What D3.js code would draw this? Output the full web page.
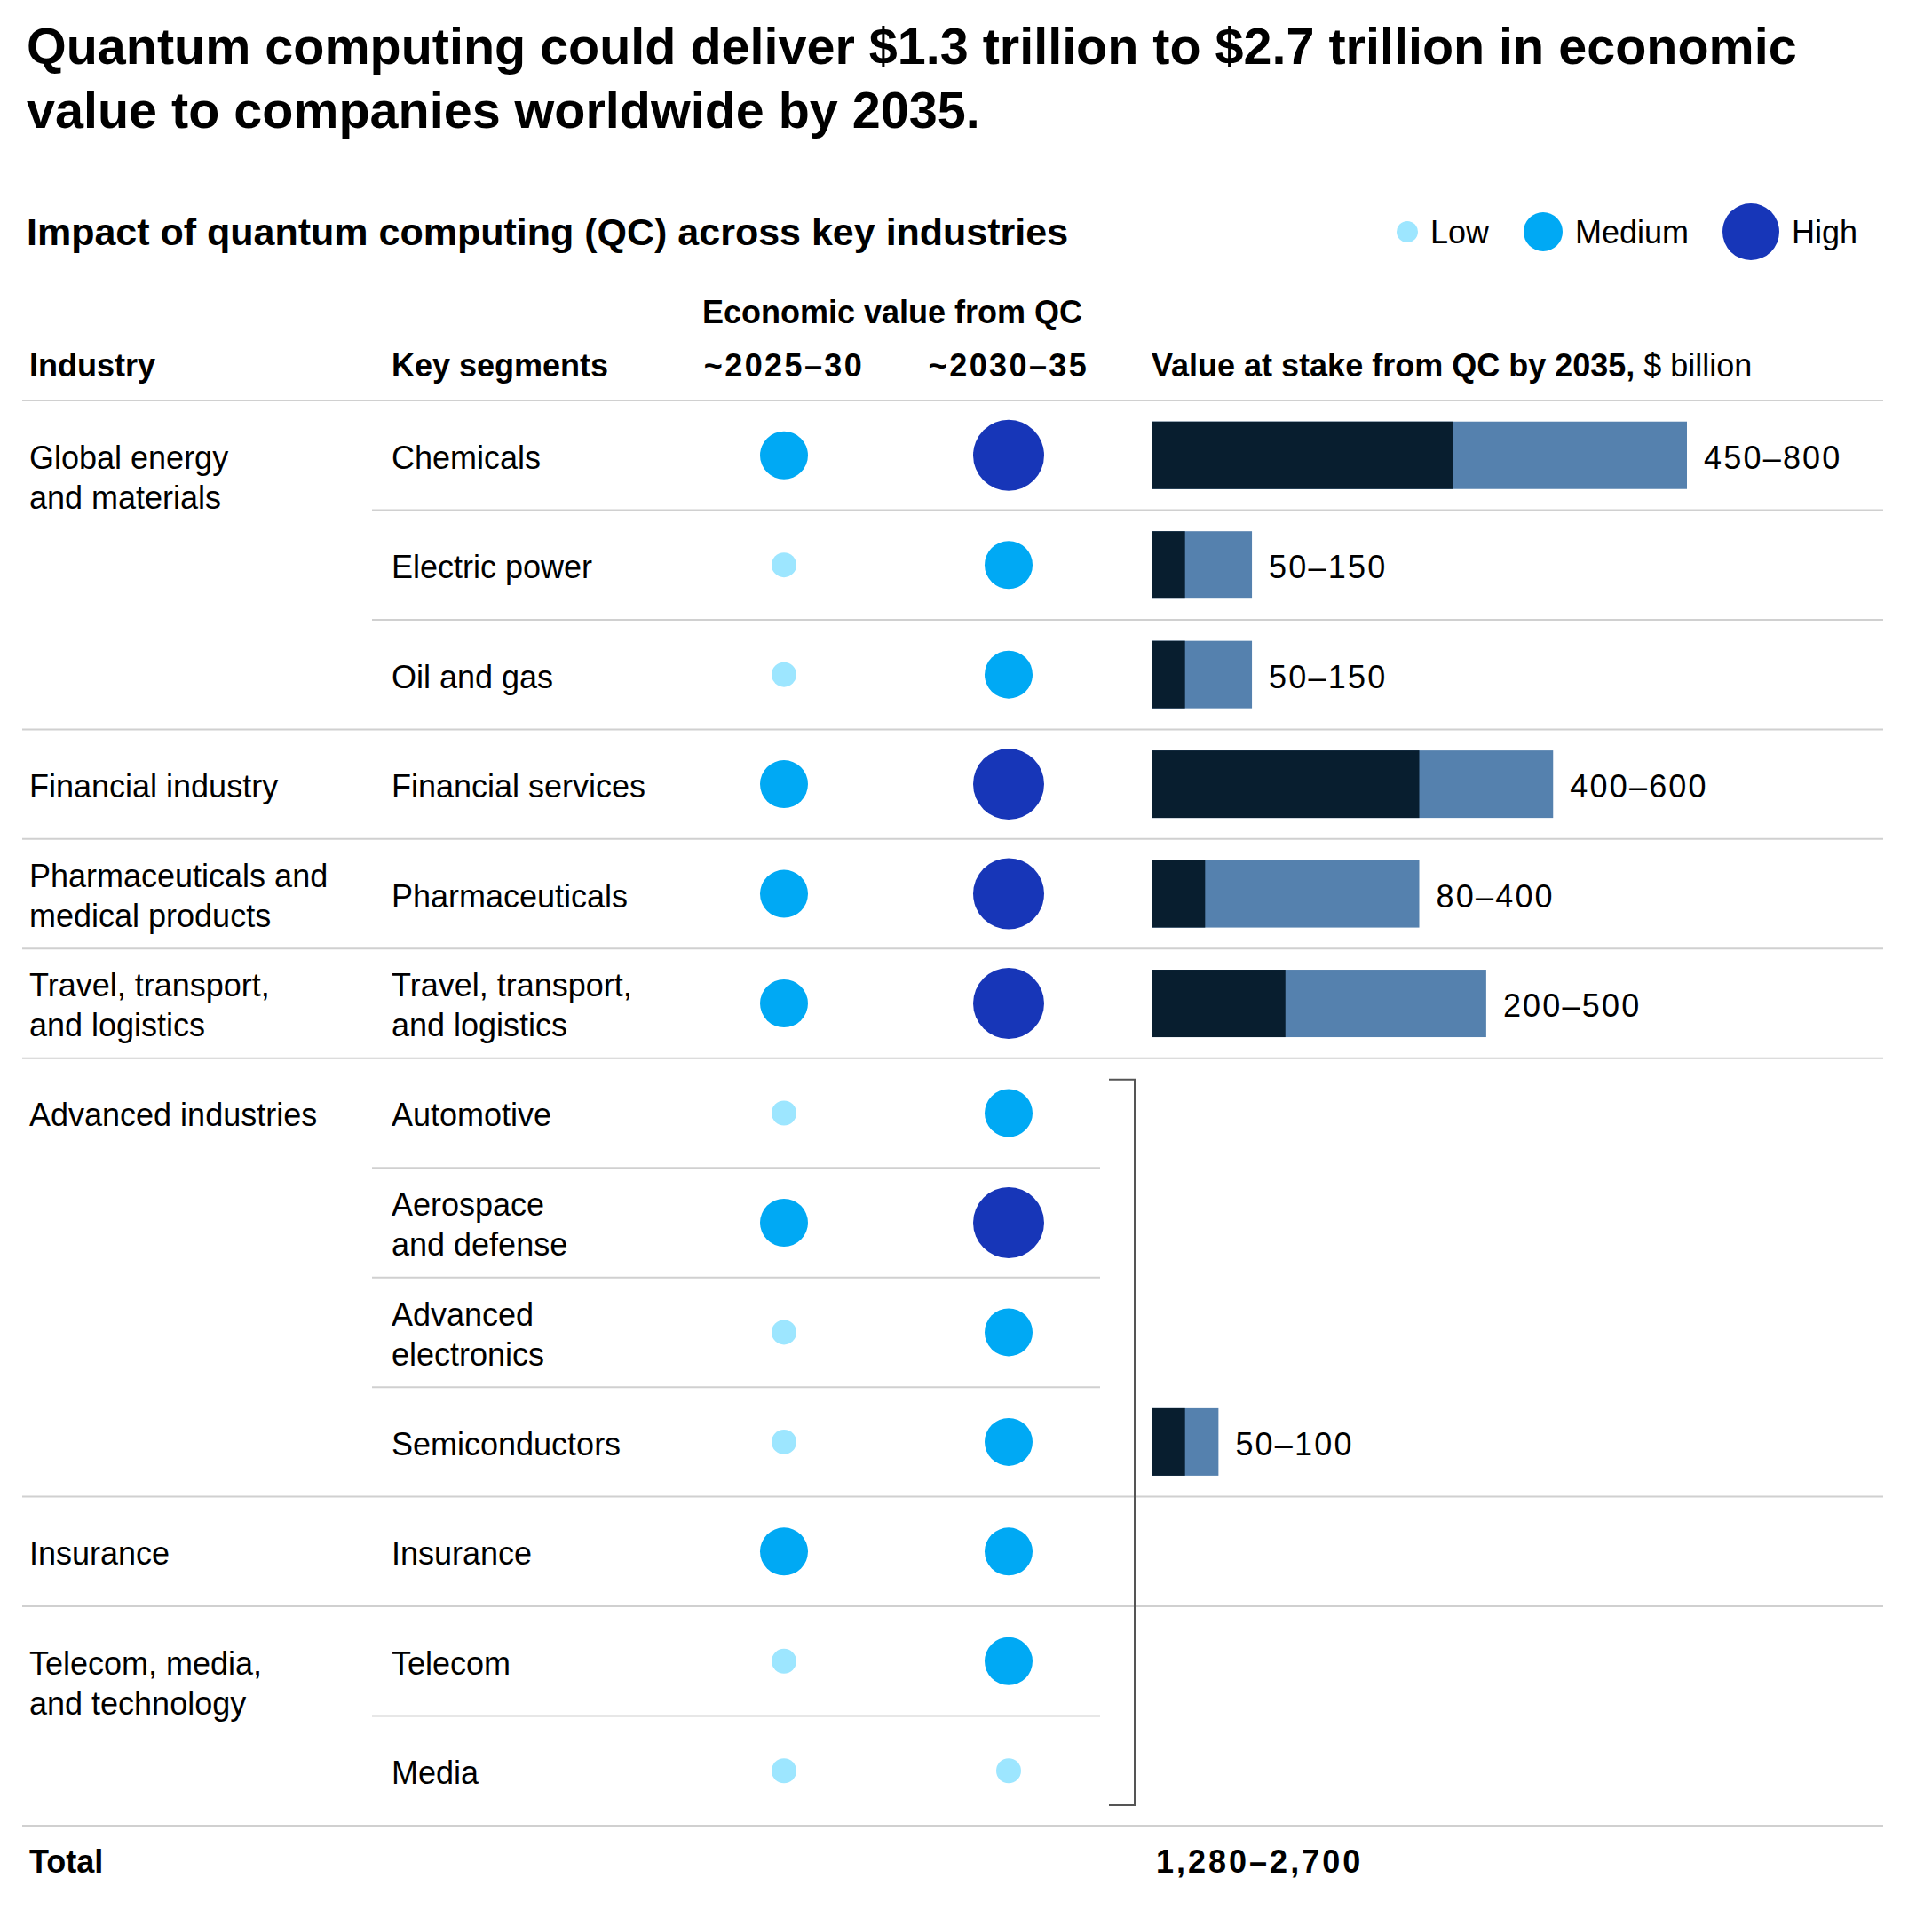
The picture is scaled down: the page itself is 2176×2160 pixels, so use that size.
<!DOCTYPE html>
<html>
<head>
<meta charset="utf-8">
<script src="https://cdn.jsdelivr.net/npm/d3@7"></script>
<style>
  body { margin: 0; background: #fff; }
  svg text { font-family: "Liberation Sans", Arial, sans-serif; fill: #000; }
</style>
</head>
<body>
<div id="chart"></div>
<script>
// segments (one row each)
const segments = ["Chemicals", "Electric power", "Oil and gas", "Financial services", "Pharmaceuticals",
  "Travel, transport,|and logistics", "Automotive", "Aerospace|and defense", "Advanced|electronics",
  "Semiconductors", "Insurance", "Telecom", "Media"];
const level2530 = ["Medium", "Low", "Low", "Medium", "Medium", "Medium", "Low", "Medium", "Low", "Low", "Medium", "Low", "Low"];
const level3035 = ["High", "Medium", "Medium", "High", "High", "High", "Medium", "High", "Medium", "Medium", "Medium", "Medium", "Low"];

// industries: label, first row, number of rows
const industries = ["Global energy|and materials", "Financial industry", "Pharmaceuticals and|medical products",
  "Travel, transport,|and logistics", "Advanced industries", "Insurance", "Telecom, media,|and technology"];
const industryStart = [0, 3, 4, 5, 6, 10, 11];
const industrySpan = [3, 1, 1, 1, 4, 1, 2];

// value at stake, $ billion
const barRows = [0, 1, 2, 3, 4, 5, 9];
const valueLow = [450, 50, 50, 400, 80, 200, 50];
const valueHigh = [800, 150, 150, 600, 400, 500, 100];
const valueLabels = ["450–800", "50–150", "50–150", "400–600", "80–400", "200–500", "50–100"];
const totalLabel = "1,280–2,700";

const levels = ["Low", "Medium", "High"];
const periods = ["~2025–30", "~2030–35"];

const W = 2176, H = 2160;
const svg = d3.select("#chart").append("svg").attr("width", W).attr("height", H);

const left = 25, right = 2121;
const fs = 36;
const y = d3.scaleBand().domain(d3.range(segments.length)).range([451, 2056]);
const yc = i => y(i) + y.bandwidth() / 2;
const xCol = d3.scaleOrdinal().domain(periods).range([883, 1136]);
const r = d3.scaleOrdinal().domain(levels).range([14, 27, 40]);
const color = d3.scaleOrdinal().domain(levels).range(["#9de6ff", "#00a9f4", "#1736b8"]);
const x = d3.scaleLinear().domain([0, 800]).range([1297, 1900]);

// title
svg.append("text").attr("x", 30).attr("y", 72).attr("font-size", 57.5).attr("font-weight", "bold")
  .text("Quantum computing could deliver $1.3 trillion to $2.7 trillion in economic");
svg.append("text").attr("x", 30).attr("y", 144).attr("font-size", 57.5).attr("font-weight", "bold")
  .text("value to companies worldwide by 2035.");

svg.append("text").attr("x", 30).attr("y", 276).attr("font-size", 43).attr("font-weight", "bold")
  .text("Impact of quantum computing (QC) across key industries");

// legend
const legX = [1585, 1738, 1972];
const legR = d3.scaleOrdinal().domain(levels).range([12, 22, 32]);
const leg = svg.append("g").selectAll("g").data(levels).join("g")
  .attr("transform", (d, i) => "translate(" + legX[i] + ",261)");
leg.append("circle").attr("r", d => legR(d)).attr("fill", d => color(d));
leg.append("text").attr("x", d => legR(d) + 14).attr("dy", "0.36em").attr("font-size", fs).text(d => d);

// headers
svg.append("text").attr("x", 791).attr("y", 364)
  .attr("font-size", fs).attr("font-weight", "bold").text("Economic value from QC");
svg.append("text").attr("x", 33).attr("y", 424).attr("font-size", fs).attr("font-weight", "bold").text("Industry");
svg.append("text").attr("x", 441).attr("y", 424).attr("font-size", fs).attr("font-weight", "bold").text("Key segments");
periods.forEach(p => {
  svg.append("text").attr("x", xCol(p)).attr("y", 424).attr("text-anchor", "middle")
    .attr("letter-spacing", 2.4)
    .attr("font-size", fs).attr("font-weight", "bold").text(p);
});
const vh = svg.append("text").attr("x", 1297).attr("y", 424).attr("font-size", fs);
vh.append("tspan").attr("font-weight", "bold").text("Value at stake from QC by 2035,");
vh.append("tspan").text(" $ billion");

// row lines
const grid = svg.append("g").attr("stroke", "#d0d0d0").attr("stroke-width", 2);
const groupTops = [0].concat(industryStart.slice(1), [segments.length]);
groupTops.forEach(i => {
  const yy = i === segments.length ? y.range()[1] : y(i);
  grid.append("line").attr("x1", left).attr("x2", right).attr("y1", yy).attr("y2", yy);
});
d3.range(segments.length).forEach(i => {
  if (industryStart.includes(i)) return;
  const ext = i < 3 ? right : 1239;
  grid.append("line").attr("x1", 419).attr("x2", ext).attr("y1", y(i)).attr("y2", y(i));
});

// multi-line text helper
function lines(g, str, x0, cy, firstAtCenter) {
  const parts = str.split("|");
  const lh = 45;
  const start = firstAtCenter ? cy : cy - (parts.length - 1) * lh / 2;
  const t = g.append("text").attr("x", x0).attr("font-size", fs);
  parts.forEach((p, k) => {
    t.append("tspan").attr("x", x0).attr("y", start + k * lh + 2).attr("dy", "0.36em").text(p);
  });
}

// industries
industries.forEach((d, i) => {
  const multi = industrySpan[i] > 1;
  lines(svg, d, 33, yc(industryStart[i]), multi);
});
// segments
segments.forEach((d, i) => lines(svg, d, 441, yc(i), false));

// circles
const dots = svg.append("g");
[level2530, level3035].forEach((arr, k) => {
  dots.selectAll(null).data(arr).join("circle")
    .attr("cx", xCol(periods[k]))
    .attr("cy", (d, i) => yc(i))
    .attr("r", d => r(d))
    .attr("fill", d => color(d));
});

// bars
const bh = 76;
const bars = svg.append("g").selectAll("g").data(barRows).join("g");
bars.append("rect")
  .attr("x", x(0)).attr("y", d => yc(d) - bh / 2)
  .attr("width", (d, i) => x(valueHigh[i]) - x(0)).attr("height", bh)
  .attr("fill", "#5581ae");
bars.append("rect")
  .attr("x", x(0)).attr("y", d => yc(d) - bh / 2)
  .attr("width", (d, i) => x(valueLow[i]) - x(0)).attr("height", bh)
  .attr("fill", "#081e2f");
bars.append("text")
  .attr("x", (d, i) => x(valueHigh[i]) + 19).attr("y", d => yc(d) + 2).attr("dy", "0.36em")
  .attr("letter-spacing", 2.2)
  .attr("font-size", fs).text((d, i) => valueLabels[i]);

// bracket for grouped industries
const bTop = y(6) + 24, bBot = y.range()[1] - 23;
svg.append("path")
  .attr("d", "M1249," + bTop + "H1278V" + bBot + "H1249")
  .attr("fill", "none").attr("stroke", "#555").attr("stroke-width", 2);

// total
svg.append("text").attr("x", 33).attr("y", 2109).attr("font-size", fs).attr("font-weight", "bold").text("Total");
svg.append("text").attr("x", 1302).attr("y", 2109).attr("font-size", fs).attr("font-weight", "bold")
  .attr("letter-spacing", 3).text(totalLabel);
</script>
</body>
</html>
